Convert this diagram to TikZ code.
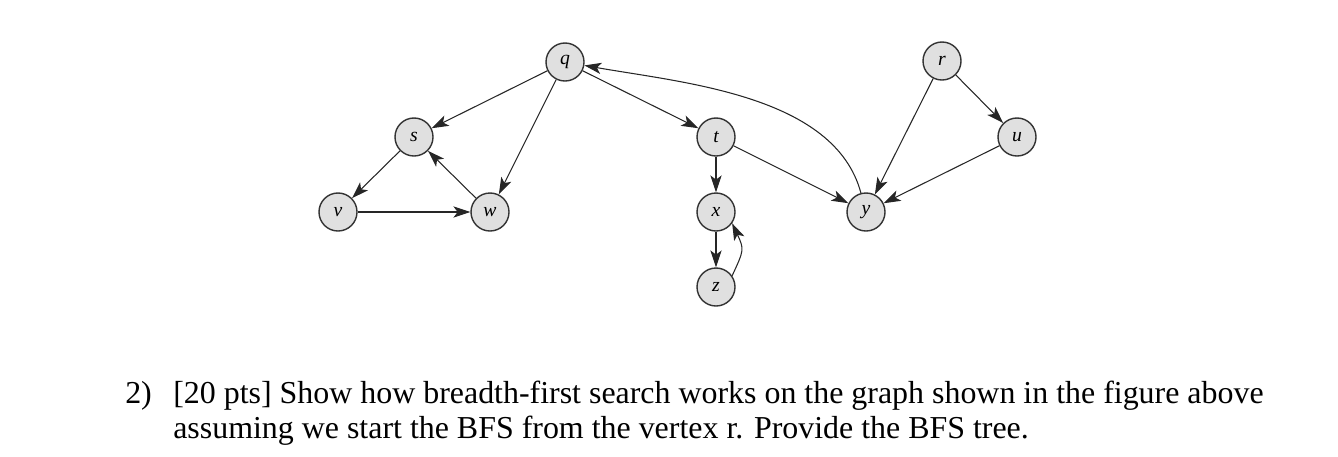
\documentclass[tikz,border=0pt]{standalone}
\usepackage{fontspec}
\setmainfont{Liberation Serif}
\usepackage{tikz}
\usetikzlibrary{arrows,arrows.meta,positioning}

\begin{document}
\begin{tikzpicture}[x=0.025cm, y=-0.025cm,
  vertex/.style = {circle, draw = black!80, fill = black!12, line width = 1pt,
    minimum size = .95cm, inner sep = 0pt, font = \fontsize{14}{14}\selectfont\itshape},
  edge/.style = {->, draw = black!85, line width = .75pt},
  task/.style = {anchor = base west, inner sep = 0pt, font = \fontsize{22.7}{26}\selectfont},
  >={Stealth[length = 12pt, width = 8pt, inset = 3pt]}]
\useasboundingbox (0,0) rectangle (1338,456);
% Vertices
\node[vertex] (q) at (565,62) {q};
\node[vertex] (s) at (414,137) {s};
\node[vertex] (v) at (338,212) {v};
\node[vertex] (w) at (490,212) {w};
\node[vertex] (t) at (716,137) {t};
\node[vertex] (x) at (716,212) {x};
\node[vertex] (z) at (716,287) {z};
\node[vertex] (y) at (866,212) {y};
\node[vertex] (r) at (942,61) {r};
\node[vertex] (u) at (1017,137) {u};
% Edges
\draw[edge] (q) -- (s);
\draw[edge] (q) -- (w);
\draw[edge] (q) -- (t);
\draw[edge] (s) -- (v);
\draw[edge] (w) -- (s);
\draw[edge] (v) -- (w);
\draw[edge] (t) -- (x);
\draw[edge] (t) -- (y);
\draw[edge] (x) -- (z);
\draw[edge] (z.35) to[out = 65, in = -65, looseness = 1.4] (x.-35);
\draw[edge] (y) to[out = 105, in = -10, looseness = .85] (q);
\draw[edge] (r) -- (y);
\draw[edge] (r) -- (u);
\draw[edge] (u) -- (y);
% Question
\node[task] (num) at (125,403) {2)};
\node[task] (line1) at (173,403) {[20 pts] Show how breadth-first search works on the graph shown in the figure above};
\node[task] (line2) at (173,438) {assuming we start the BFS from the vertex r. Provide the BFS tree.};
\end{tikzpicture}
\end{document}
